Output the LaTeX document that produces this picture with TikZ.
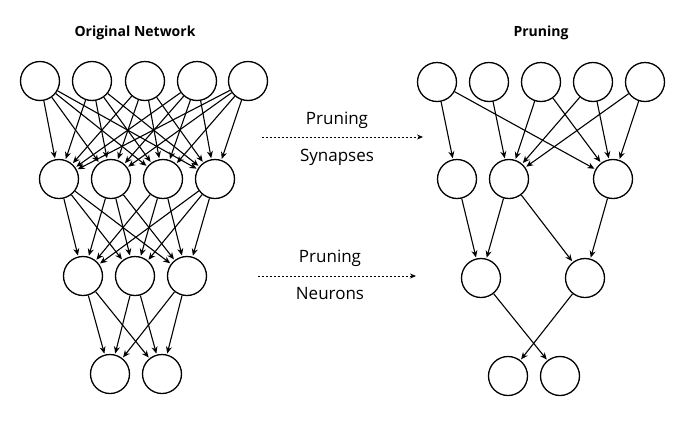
\documentclass[tikz,border=0pt]{standalone}
\usepackage{fontspec}
\setmainfont{Open Sans}
\usetikzlibrary{arrows.meta}
\begin{document}
\begin{tikzpicture}[x=1pt,y=-1pt,
  n/.style={circle,draw,line width=1.3pt,minimum size=39pt,inner sep=0pt},
  e/.style={-{Stealth[length=7pt,width=6pt]},line width=1.1pt,shorten >=1pt},
  lab/.style={font=\fontsize{17}{20}\selectfont},
  ttl/.style={font=\bfseries\fontsize{14}{17}\selectfont},
  da/.style={-{Stealth[length=6pt,width=5pt]},dash pattern=on 2pt off 2pt,line width=0.8pt}]
\useasboundingbox (0,0) rectangle (694,421);
\node[ttl] (t1) at (135,33) {Original Network};
\node[ttl] (t2) at (541,33) {Pruning};
% left
\foreach \i/\x in {1/40,2/92,3/145,4/197,5/248} \node[n] (a\i) at (\x,81) {};
\foreach \i/\x in {1/59,2/111,3/163,4/215} \node[n] (b\i) at (\x,179) {};
\foreach \i/\x in {1/83,2/135,3/187} \node[n] (c\i) at (\x,276) {};
\foreach \i/\x in {1/110,2/162} \node[n] (d\i) at (\x,374) {};
\foreach \i in {1,...,5} \foreach \j in {1,...,4} \draw[e] (a\i) -- (b\j);
\foreach \i in {1,...,4} \foreach \j in {1,...,3} \draw[e] (b\i) -- (c\j);
\foreach \i in {1,...,3} \foreach \j in {1,2} \draw[e] (c\i) -- (d\j);
% right
\foreach \i/\x in {1/437,2/489,3/541,4/593,5/645} \node[n] (p\i) at (\x,82) {};
\foreach \i/\x in {1/457,2/509,3/613} \node[n] (q\i) at (\x,179) {};
\foreach \i/\x in {1/481,2/585} \node[n] (r\i) at (\x,278) {};
\foreach \i/\x in {1/508,2/560} \node[n] (s\i) at (\x,376) {};
\foreach \a/\b in {p1/q1,p1/q3,p2/q2,p3/q2,p3/q3,p4/q2,p4/q3,p5/q2,p5/q3,q1/r1,q2/r1,q2/r2,q3/r2,r1/s2,r2/s1}
  \draw[e] (\a) -- (\b);
% labels
\node[lab] (l1) at (337,120) {Pruning};
\node[lab] (l2) at (337,157) {Synapses};
\coordinate (sa1) at (262,137); \coordinate (sa2) at (423,137);
\draw[da] (sa1) -- (sa2);
\node[lab] (l3) at (330,258) {Pruning};
\node[lab] (l4) at (330,294) {Neurons};
\coordinate (sb1) at (258,276); \coordinate (sb2) at (416,276);
\draw[da] (sb1) -- (sb2);
\end{tikzpicture}
\end{document}
